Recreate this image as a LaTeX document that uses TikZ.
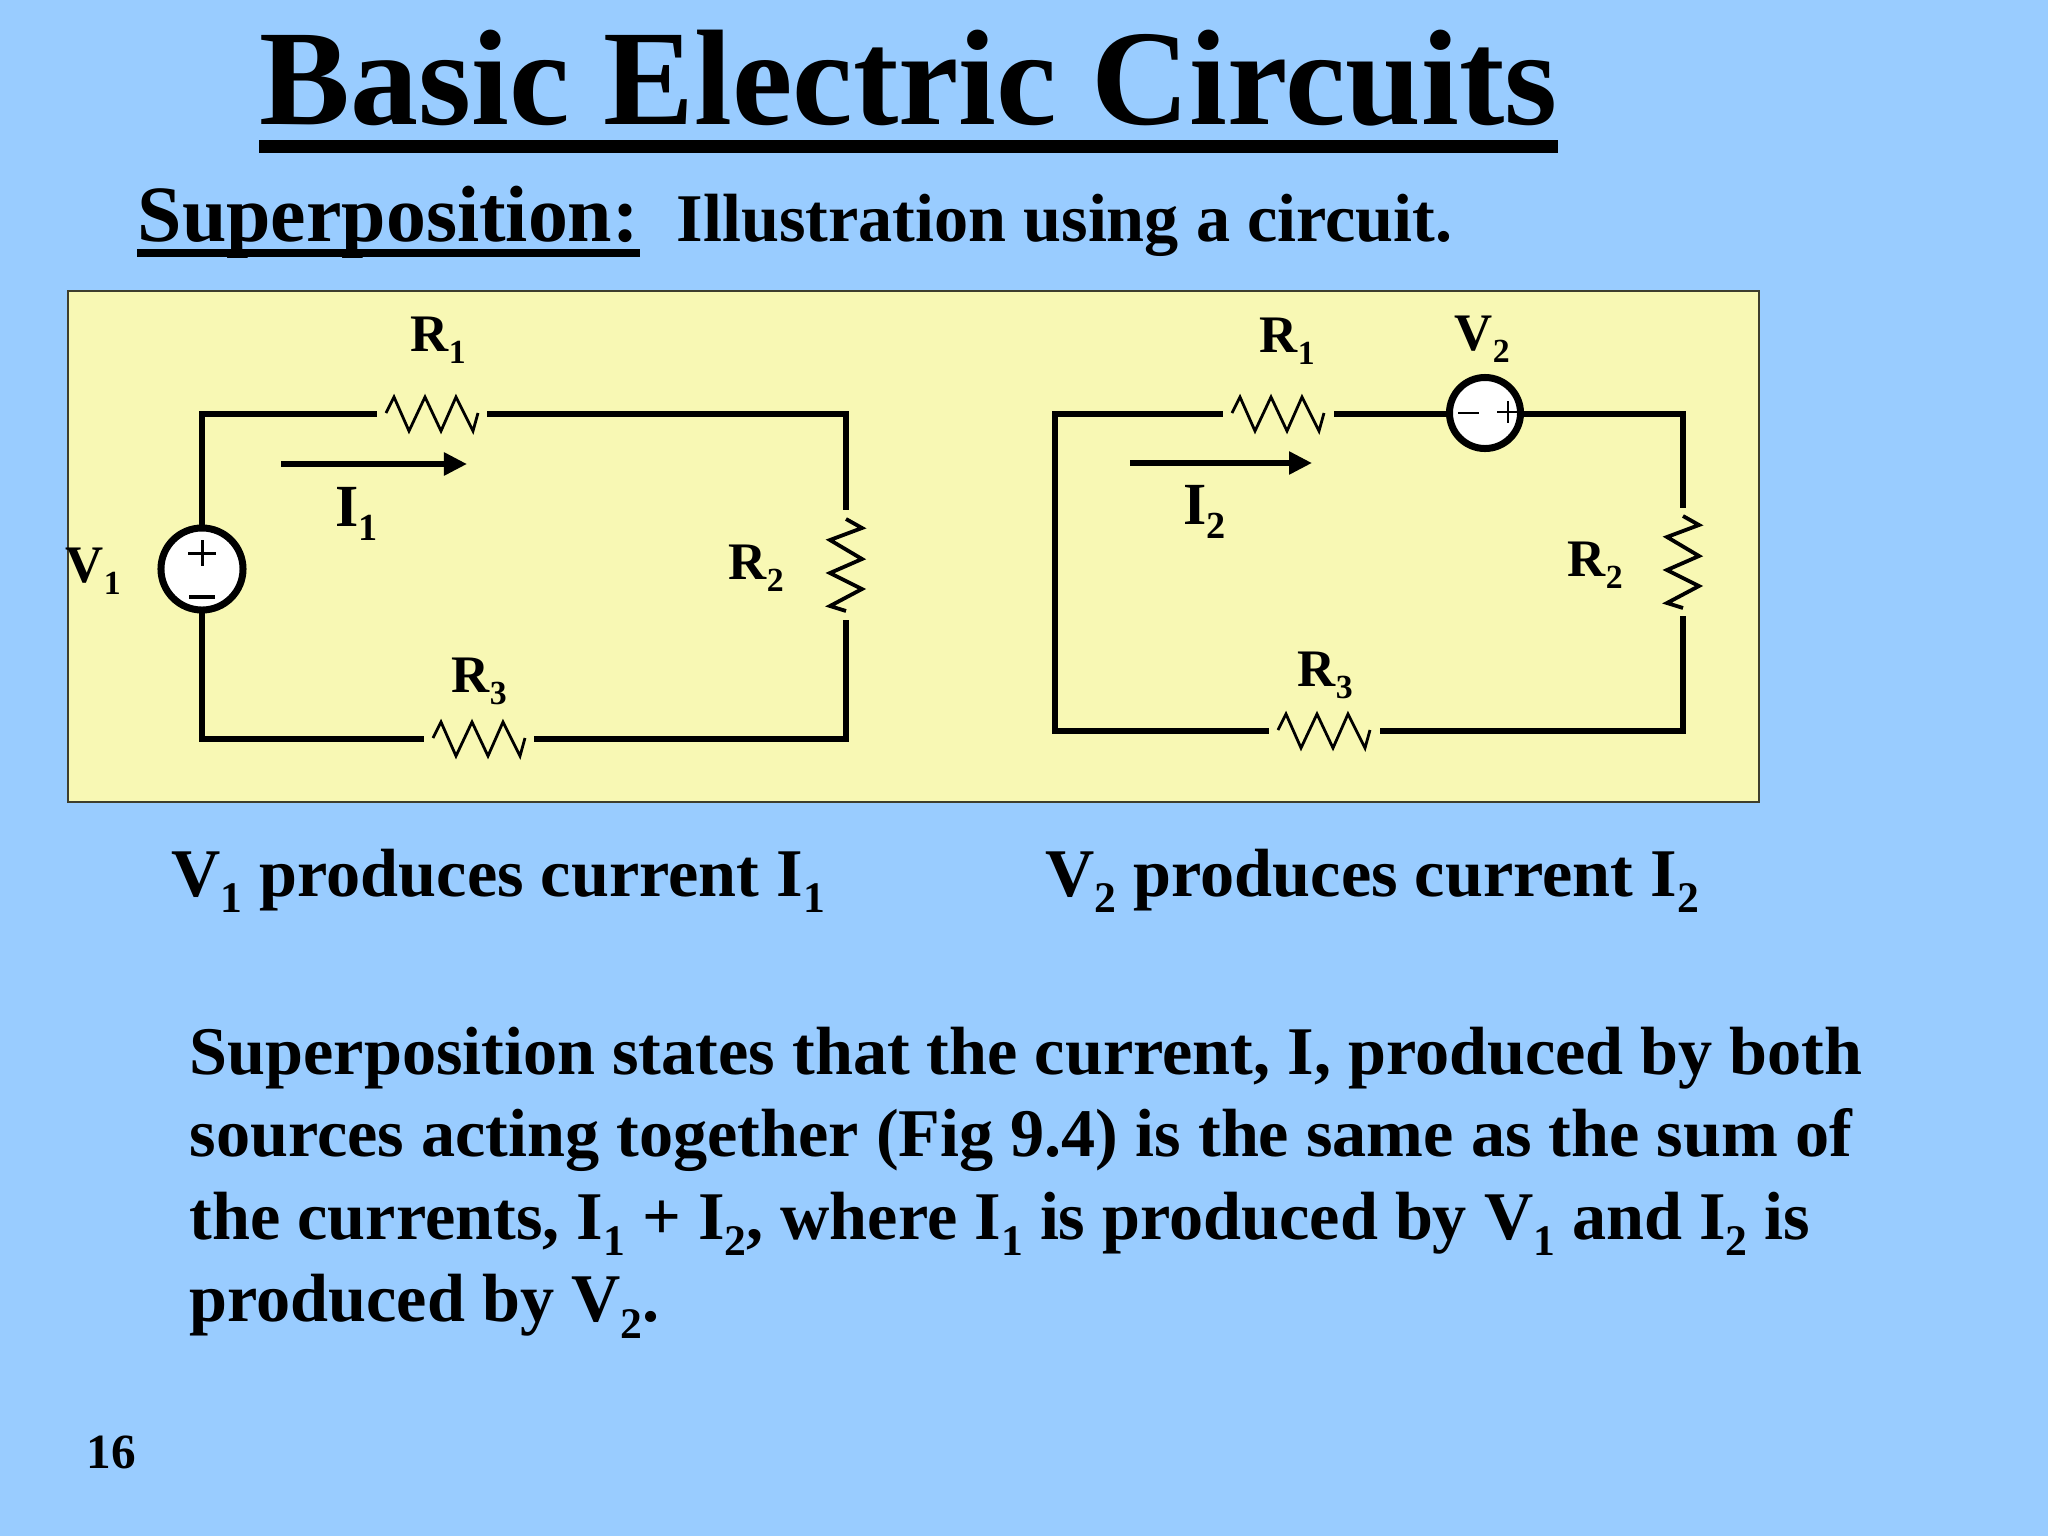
\documentclass[tikz,border=0pt]{standalone}
\usepackage{fontspec}
\setmainfont{Liberation Serif}
\usetikzlibrary{arrows.meta}

\definecolor{slideblue}{HTML}{99CCFF}
\definecolor{panelyellow}{HTML}{F8F8B4}
\newcommand{\lowsub}[1]{\raisebox{-0.24em}{\scalebox{0.64}{#1}}}

\tikzset{
  wire/.style={black,line width=0.055cm,line cap=rect},
  zigline/.style={black,line width=0.028cm,line join=miter},
  gapbox/.style={inner sep=0pt,minimum width=1.15cm,minimum height=0.4cm},
  srcbox/.style={circle,draw=black,fill=white,line width=0.07cm,inner sep=0pt,minimum size=#1},
  lab/.style={font=\fontsize{15}{18}\selectfont\bfseries,anchor=base west,inner sep=0pt},
  curlab/.style={font=\fontsize{17}{20}\selectfont\bfseries,anchor=base west,inner sep=0pt},
  bigtxt/.style={font=\fontsize{19.4}{23.5}\selectfont\bfseries,anchor=base west,inner sep=0pt},
  cur/.style={black,line width=0.055cm,-{Triangle[length=0.23cm,width=0.22cm]}},
  reshor/.pic={\draw[zigline] (-46,-1)--(-38,-17)--(-23,17)--(-7,-17)--(9,17)--(24,-17)--(41,17)--(46,-1);},
  resver/.pic={\draw[zigline,line width=0.038cm] (0,-46)--(16,-37)--(-16,-25)--(16,-6)--(-16,8)--(16,24)--(-16,41)--(0,46);}
}

\begin{document}
\begin{tikzpicture}[x=0.01cm,y=-0.01cm]
  \fill[slideblue] (0,0) rectangle (2048,1536);
  \draw[panelyellow!25!black,line width=0.02cm,fill=panelyellow] (68,291) rectangle (1759,802);

  % headings
  \node[anchor=base west,inner sep=0pt,font=\fontsize{38.7}{44}\selectfont\bfseries] (title) at (259,124) {Basic Electric Circuits};
  \draw[line width=0.125cm] ([yshift=-0.225cm]title.base west) -- ([yshift=-0.225cm]title.base east);
  \node[anchor=base west,inner sep=0pt,font=\fontsize{22.7}{26}\selectfont\bfseries] (head) at (137,241) {Superposition:};
  \draw[line width=0.08cm] ([yshift=-0.12cm]head.base west) -- ([yshift=-0.12cm]head.base east);
  \node[bigtxt] (subhead) at (676,241) {Illustration using a circuit.};

  % circuit with V1
  \node[srcbox=0.82cm] (vone) at (202,569) {};
  \node[gapbox] (ra) at (432,414) {};
  \node[gapbox,minimum width=0.4cm,minimum height=1.15cm] (rb) at (846,565) {};
  \node[gapbox] (rc) at (479,739) {};
  \coordinate (tla) at (202,414);
  \coordinate (tra) at (846,414);
  \coordinate (bra) at (846,739);
  \coordinate (bla) at (202,739);
  \draw[wire] (vone) -- (tla) -- (ra);
  \draw[wire] (ra) -- (tra) -- (rb);
  \draw[wire] (rb) -- (bra) -- (rc);
  \draw[wire] (rc) -- (bla) -- (vone);
  \pic at (ra) {reshor};
  \pic at (rb) {resver};
  \pic at (rc) {reshor};
  \draw[line width=0.03cm] (188,553) -- (216,553) (202,540) -- (202,566);
  \draw[line width=0.035cm] (189,597) -- (215,597);
  \coordinate (ias) at (281,464);
  \coordinate (iae) at (467,464);
  \draw[cur] (ias) -- (iae);
  \node[lab] (lra) at (410,351) {R\lowsub{1}};
  \node[lab] (lrb) at (728,579) {R\lowsub{2}};
  \node[lab] (lrc) at (451,692) {R\lowsub{3}};
  \node[lab] (lva) at (65,582) {V\lowsub{1}};
  \node[curlab] (lia) at (335,526) {I\lowsub{1}};

  % circuit with V2
  \node[srcbox=0.71cm] (vtwo) at (1485,413) {};
  \node[gapbox] (rd) at (1278,414) {};
  \node[gapbox,minimum width=0.4cm,minimum height=1.12cm] (re) at (1683,562) {};
  \node[gapbox] (rf) at (1324,731) {};
  \coordinate (tlb) at (1055,414);
  \coordinate (trb) at (1683,414);
  \coordinate (brb) at (1683,731);
  \coordinate (blb) at (1055,731);
  \draw[wire] (rd) -- (tlb) -- (blb) -- (rf);
  \draw[wire] (rd) -- (vtwo.west |- rd);
  \draw[wire] (vtwo.east |- trb) -- (trb) -- (re);
  \draw[wire] (re) -- (brb) -- (rf);
  \pic at (rd) {reshor};
  \pic at (re) {resver};
  \pic at (rf) {reshor};
  \draw[line width=0.02cm] (1458,413) -- (1479,413);
  \draw[line width=0.02cm] (1497,412) -- (1519,412) (1508,401) -- (1508,423);
  \coordinate (ibs) at (1130,463);
  \coordinate (ibe) at (1312,463);
  \draw[cur] (ibs) -- (ibe);
  \node[lab] (lrd) at (1259,352) {R\lowsub{1}};
  \node[lab] (lre) at (1567,576) {R\lowsub{2}};
  \node[lab] (lrf) at (1297,686) {R\lowsub{3}};
  \node[lab] (lvb) at (1454,350) {V\lowsub{2}};
  \node[curlab] (lib) at (1183,524) {I\lowsub{2}};

  % text below the panel
  \node[bigtxt] (capa) at (171,896) {V\lowsub{1} produces current I\lowsub{1}};
  \node[bigtxt] (capb) at (1045,896) {V\lowsub{2} produces current I\lowsub{2}};
  \node[bigtxt,align=left,anchor=north west] (para) at (189,1026) {Superposition states that the current, I, produced by both\\
    sources acting together (Fig 9.4) is the same as the sum of\\
    the currents, I\lowsub{1} + I\lowsub{2}, where I\lowsub{1} is produced by V\lowsub{1} and I\lowsub{2} is\\
    produced by V\lowsub{2}.};
  \node[anchor=base west,inner sep=0pt,font=\fontsize{14}{17}\selectfont\bfseries] (pageno) at (86,1468) {16};
\end{tikzpicture}
\end{document}
